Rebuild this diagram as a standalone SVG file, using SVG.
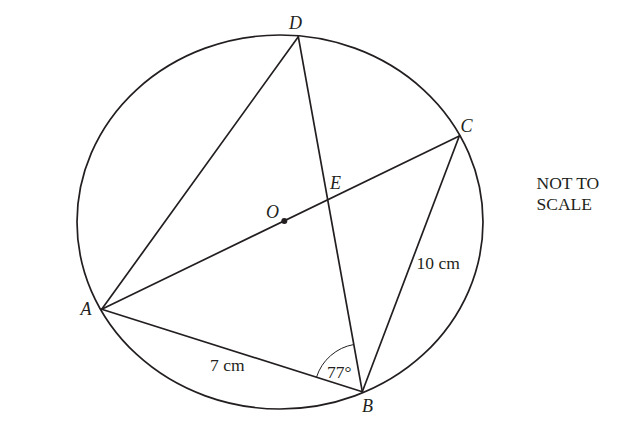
<svg xmlns="http://www.w3.org/2000/svg" width="629" height="434" viewBox="0 0 629 434">
<style>
.ln{stroke:#231f20;stroke-width:1.7;fill:none;stroke-linecap:round}
.lbl{font-family:"Liberation Serif","Times New Roman",serif;font-size:18px;font-style:italic;fill:#231f20}
.txt{font-family:"Liberation Serif","Times New Roman",serif;font-size:17.5px;fill:#231f20}
</style>
<rect width="629" height="434" fill="#fff"/>
<g id="circle"><ellipse class="ln" cx="280" cy="222" rx="203" ry="187"/></g>
<g id="connectors">
<line class="ln" x1="101.7" y1="309.3" x2="298.3" y2="36.7"/>
<line class="ln" x1="298.3" y1="36.7" x2="362.3" y2="391.7"/>
<line class="ln" x1="101.7" y1="309.3" x2="459.3" y2="136"/>
<line class="ln" x1="459.3" y1="136" x2="362.3" y2="391.7"/>
<line class="ln" x1="101.7" y1="309.3" x2="362.3" y2="391.7"/>
<path d="M316.5 377.2 A48 48 0 0 1 353.8 344.5" fill="none" stroke="#231f20" stroke-width="1"/>
</g>
<g id="O"><circle cx="284.3" cy="221" r="3" fill="#231f20"/><text class="lbl" x="266" y="217.5">O</text></g>
<g id="E"><text class="lbl" x="330" y="189">E</text></g>
<g id="D"><text class="lbl" x="289" y="29">D</text></g>
<g id="C"><text class="lbl" x="460.5" y="131.5">C</text></g>
<g id="A"><text class="lbl" x="80.5" y="315">A</text></g>
<g id="B"><text class="lbl" x="362" y="411.5">B</text></g>
<g id="labels">
<text class="txt" x="327" y="377.5">77°</text>
<text class="txt" x="210" y="371">7 cm</text>
<text class="txt" x="416.5" y="269">10 cm</text>
<text class="txt" x="536.5" y="188.5">NOT TO</text>
<text class="txt" x="536.5" y="210">SCALE</text>
</g>
</svg>
